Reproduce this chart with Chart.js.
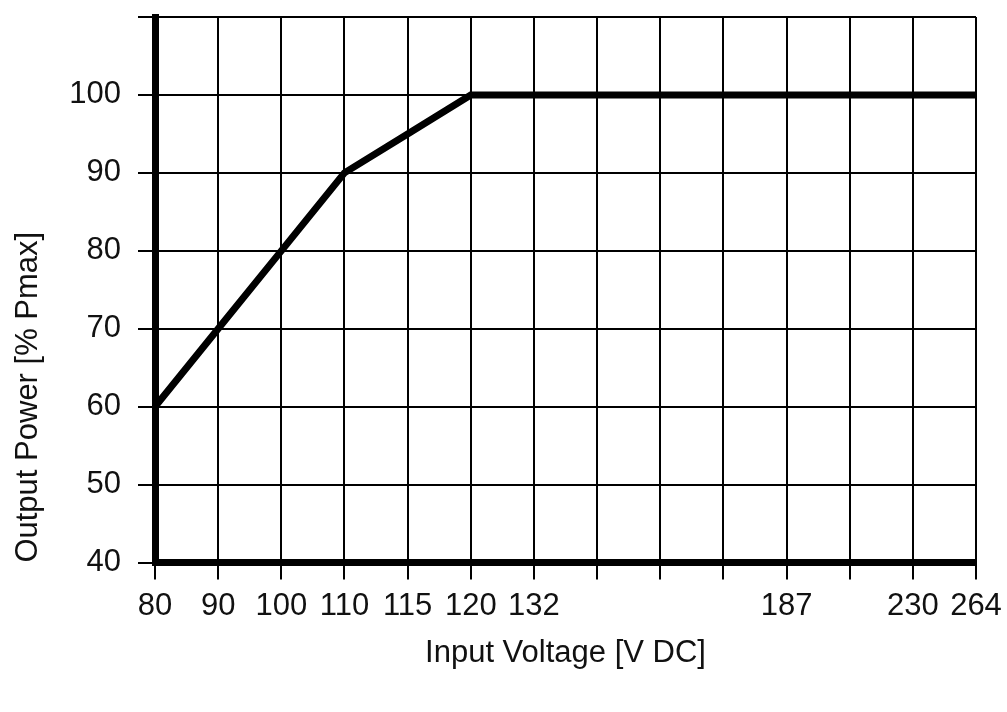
<!DOCTYPE html>
<html>
<head>
<meta charset="utf-8">
<script src="https://cdn.jsdelivr.net/npm/chart.js@4.4.1/dist/chart.umd.min.js"></script>
<style>
  html, body { margin: 0; padding: 0; background: #fff; }
  #wrap { width: 1007px; height: 712px; }
</style>
</head>
<body>
<div id="wrap"><canvas id="derating-chart" width="1007" height="712"></canvas></div>
<script>
// Input voltage steps (evenly spaced on the chart, some unlabeled)
const voltageLabels = ['80', '90', '100', '110', '115', '120', '132', '', '', '', '187', '', '230', '264'];
// Output power in % of Pmax at each step
const outputPower = [60, 70, 80, 90, 95, 100, 100, 100, 100, 100, 100, 100, 100, 100];
// Labeled power ticks (the top grid line at 110 has no label)
const powerTicks = [40, 50, 60, 70, 80, 90, 100];
const powerMin = 40;
const powerMax = 110;

Chart.defaults.font.family = '"Liberation Sans", Arial, sans-serif';
Chart.defaults.color = '#111';

const ctx = document.getElementById('derating-chart');
const chart = new Chart(ctx, {
  type: 'line',
  data: {
    labels: voltageLabels,
    datasets: [{
      label: 'Output Power',
      data: outputPower,
      borderColor: '#000',
      borderWidth: 7,
      pointRadius: 0,
      tension: 0,
      fill: false
    }]
  },
  options: {
    responsive: false,
    animation: false,
    devicePixelRatio: 1,
    layout: {
      padding: { left: 0, right: 31, top: 17, bottom: 40 }
    },
    plugins: {
      legend: { display: false },
      tooltip: { enabled: false }
    },
    scales: {
      x: {
        type: 'category',
        offset: false,
        grid: { color: '#000', lineWidth: 2, tickLength: 17, tickColor: '#000', tickWidth: 2 },
        border: { display: true, color: '#000', width: 7 },
        ticks: { autoSkip: false, maxRotation: 0, padding: 8, font: { size: 31 } },
        title: {
          display: true,
          text: 'Input Voltage [V DC]',
          font: { size: 31 },
          padding: { top: 2, bottom: 0 }
        },
        afterFit: (scale) => {
          scale.paddingLeft = 0;
          scale.paddingRight = 0;
        }
      },
      y: {
        type: 'linear',
        min: powerMin,
        max: powerMax,
        grid: { color: '#000', lineWidth: 2, tickLength: 17, tickColor: '#000', tickWidth: 2 },
        border: { display: true, color: '#000', width: 7 },
        ticks: {
          stepSize: 10,
          padding: 17,
          font: { size: 31 },
          callback: (value) => powerTicks.includes(value) ? String(value) : ''
        },
        title: {
          display: true,
          text: 'Output Power [% Pmax]',
          align: 'start',
          font: { size: 31 },
          padding: { top: 10, bottom: 0 }
        },
        afterFit: (scale) => {
          scale.width = 155;
          scale.paddingTop = 0;
          scale.paddingBottom = 0;
        }
      }
    }
  }
});
</script>
</body>
</html>
